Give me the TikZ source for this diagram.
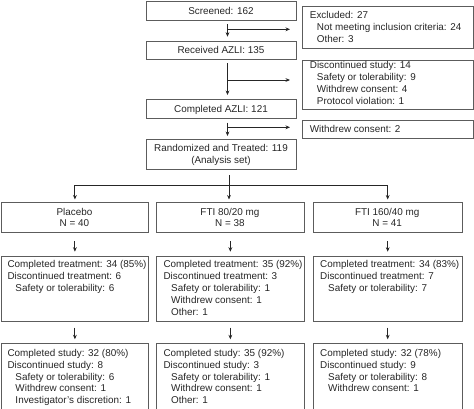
\documentclass[tikz,border=0pt]{standalone}
\usepackage{fontspec}
\setmainfont{Liberation Sans}
\usetikzlibrary{arrows.meta}
\begin{document}
\begin{tikzpicture}[x=1pt,y=-1pt,
 box/.style={draw=black!64, line width=1pt, inner sep=0pt, anchor=north west},
 txt/.style={inner sep=0pt, font=\fontsize{9.9}{12}\selectfont, text=black!85},
 lt/.style={txt, anchor=base west},
 ct/.style={txt, anchor=base},
 arr/.style={draw=black!85, line width=1pt, -{Stealth[length=4.5pt,width=3.8pt]}},
 ln/.style={draw=black!85, line width=1pt}]
\useasboundingbox (0,0) rectangle (474,408);
% central column
\node[box, minimum width=150.6pt, minimum height=18.7pt] (scr) at (145.7,1) {};
\node[box, minimum width=150.6pt, minimum height=18.3pt] (rec) at (145.7,40.7) {};
\node[box, minimum width=150.6pt, minimum height=19pt] (cmp) at (145.7,99.3) {};
\node[box, minimum width=150.6pt, minimum height=30pt] (rnd) at (145.7,139) {};
% right column
\node[box, minimum width=170.4pt, minimum height=42.3pt] (exc) at (302.3,6) {};
\node[box, minimum width=170.4pt, minimum height=49.3pt] (dis) at (302.3,60) {};
\node[box, minimum width=170.4pt, minimum height=17.7pt] (wdr) at (302.3,120) {};
% groups
\node[box, minimum width=147.8pt, minimum height=30.6pt] (pA) at (0.5,201.7) {};
\node[box, minimum width=148.3pt, minimum height=30.6pt] (pB) at (155.7,201.7) {};
\node[box, minimum width=149pt, minimum height=30.6pt] (pC) at (312.7,201.7) {};
\node[box, minimum width=147.8pt, minimum height=65.5pt] (tA) at (0.5,255.5) {};
\node[box, minimum width=148.3pt, minimum height=65.5pt] (tB) at (155.7,255.5) {};
\node[box, minimum width=149pt, minimum height=65.5pt] (tC) at (312.7,255.5) {};
\node[box, minimum width=147.8pt, minimum height=80pt] (sA) at (0.5,342.5) {};
\node[box, minimum width=148.3pt, minimum height=80pt] (sB) at (155.7,342.5) {};
\node[box, minimum width=149pt, minimum height=80pt] (sC) at (312.7,342.5) {};
% texts
\node[ct] (t1) at (221,14.5) {Screened: 162};
\node[ct] (t2) at (221,53.5) {Received AZLI: 135};
\node[ct] (t3) at (221,112.5) {Completed AZLI: 121};
\node[ct] (t4) at (221,151.2) {Randomized and Treated: 119};
\node[ct] (t5) at (221,163.7) {(Analysis set)};
\node[lt] (e1) at (309.7,18.8) {Excluded: 27};
\node[lt] (e2) at (316.7,30.8) {Not meeting inclusion criteria: 24};
\node[lt] (e3) at (316.7,42.8) {Other: 3};
\node[lt] (d1) at (309.7,68.5) {Discontinued study: 14};
\node[lt] (d2) at (316.7,80.4) {Safety or tolerability: 9};
\node[lt] (d3) at (316.7,92.3) {Withdrew consent: 4};
\node[lt] (d4) at (316.7,104.2) {Protocol violation: 1};
\node[lt] (w1) at (309.7,132.2) {Withdrew consent: 2};
\node[ct] (gA1) at (74.4,215.6) {Placebo};
\node[ct] (gA2) at (74.4,226.7) {N = 40};
\node[ct] (gB1) at (229.9,215.6) {FTI 80/20 mg};
\node[ct] (gB2) at (229.9,226.7) {N = 38};
\node[ct] (gC1) at (387.2,215.6) {FTI 160/40 mg};
\node[ct] (gC2) at (387.2,226.7) {N = 41};
% treatment
\node[lt] (ta1) at (7.3,267.8) {Completed treatment: 34 (85\%)};
\node[lt] (ta2) at (7.3,279.6) {Discontinued treatment: 6};
\node[lt] (ta3) at (15.3,291.4) {Safety or tolerability: 6};
\node[lt] (tb1) at (163.3,267.8) {Completed treatment: 35 (92\%)};
\node[lt] (tb2) at (163.3,279.6) {Discontinued treatment: 3};
\node[lt] (tb3) at (171.0,291.4) {Safety or tolerability: 1};
\node[lt] (tb4) at (171.0,303.2) {Withdrew consent: 1};
\node[lt] (tb5) at (171.0,315.0) {Other: 1};
\node[lt] (tc1) at (320,267.8) {Completed treatment: 34 (83\%)};
\node[lt] (tc2) at (320,279.6) {Discontinued treatment: 7};
\node[lt] (tc3) at (328,291.4) {Safety or tolerability: 7};
% study
\node[lt] (sa1) at (7.3,356.7) {Completed study: 32 (80\%)};
\node[lt] (sa2) at (7.3,368.4) {Discontinued study: 8};
\node[lt] (sa3) at (15.3,380.1) {Safety or tolerability: 6};
\node[lt] (sa4) at (15.3,391.8) {Withdrew consent: 1};
\node[lt] (sa5) at (15.3,403.5) {Investigator's discretion: 1};
\node[lt] (sb1) at (163.3,356.7) {Completed study: 35 (92\%)};
\node[lt] (sb2) at (163.3,368.4) {Discontinued study: 3};
\node[lt] (sb3) at (171.0,380.1) {Safety or tolerability: 1};
\node[lt] (sb4) at (171.0,391.8) {Withdrew consent: 1};
\node[lt] (sb5) at (171.0,403.5) {Other: 1};
\node[lt] (sc1) at (320,356.7) {Completed study: 32 (78\%)};
\node[lt] (sc2) at (320,368.4) {Discontinued study: 9};
\node[lt] (sc3) at (328,380.1) {Safety or tolerability: 8};
\node[lt] (sc4) at (328,391.8) {Withdrew consent: 1};
% connectors
\coordinate (ax) at (227.5,0);
\coordinate (b1) at (227.5,29.3);
\coordinate (b2) at (227.5,80);
\coordinate (b3) at (227.5,127.3);
\draw[arr, shorten <=3.3pt, shorten >=4pt] (scr.south -| ax) -- (rec.north -| ax);
\draw[arr, shorten >=12.3pt] (b1) -- (b1 -| exc.west);
\draw[arr, shorten <=3.3pt, shorten >=4.3pt] (rec.south -| ax) -- (cmp.north -| ax);
\draw[arr, shorten >=12.3pt] (b2) -- (b2 -| dis.west);
\draw[arr, shorten <=3.4pt, shorten >=3pt] (cmp.south -| ax) -- (rnd.north -| ax);
\draw[arr, shorten >=12.3pt] (b3) -- (b3 -| wdr.west);
\coordinate (h) at (229,185.3);
\coordinate (mx) at (229,0);
\draw[ln] (h -| pA.north) -- (h -| pC.north);
\draw[arr, shorten <=5pt, shorten >=2.2pt] (rnd.south -| mx) -- (pB.north -| mx);
\draw[arr, shorten >=2.2pt] (h -| pA.north) -- (pA.north);
\draw[arr, shorten >=2.2pt] (h -| pC.north) -- (pC.north);
\foreach \g in {A,B,C}{
  \draw[arr, shorten <=7.7pt, shorten >=3.8pt] (p\g.south) -- (t\g.north);
  \draw[arr, shorten <=5.5pt, shorten >=3.2pt] (t\g.south) -- (s\g.north);
}
\end{tikzpicture}
\end{document}
